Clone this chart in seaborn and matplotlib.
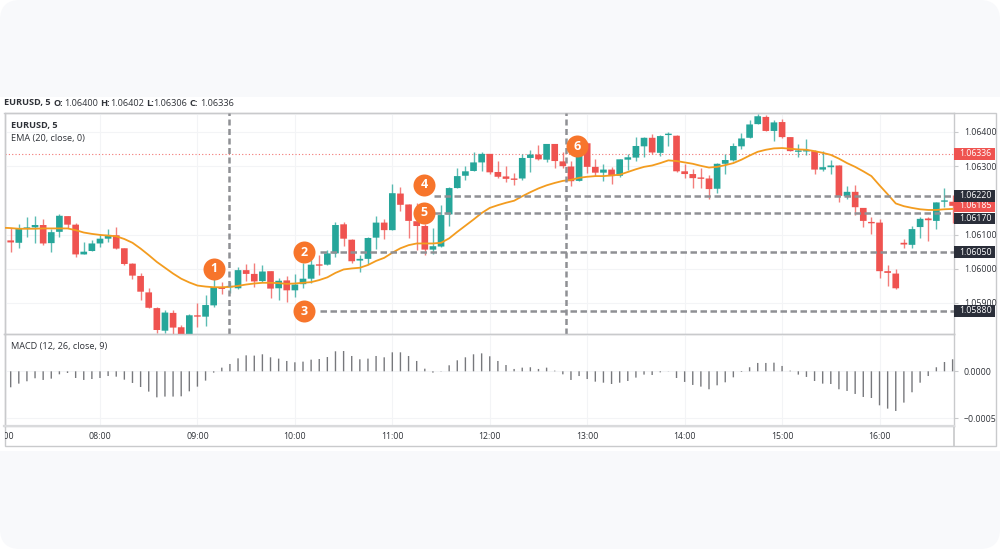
import matplotlib
matplotlib.use("Agg")
import matplotlib.pyplot as plt
from matplotlib.patches import FancyBboxPatch, Rectangle
import numpy as np
import pandas as pd
import seaborn as sns

# candle data (index 0 = 08:00, 5 minutes per candle)
opens = [1.06083, 1.06076, 1.06117, 1.06121, 1.06128, 1.06075, 1.06108, 1.06154, 1.06129, 1.06042, 1.06052,
         1.06074, 1.06088, 1.06098, 1.06060, 1.06015, 1.05979, 1.05931, 1.05885, 1.05819, 1.05871, 1.05829,
         1.05797, 1.05864, 1.05860, 1.05893, 1.05945, 1.05946, 1.05943, 1.05996, 1.05985, 1.05964, 1.05993,
         1.05943, 1.05966, 1.05937, 1.05955, 1.05971, 1.06012, 1.06012, 1.06045, 1.06130, 1.06085, 1.06024,
         1.06029, 1.06091, 1.06135, 1.06113, 1.06220, 1.06188, 1.06139, 1.06125, 1.06056, 1.06065, 1.06159,
         1.06236, 1.06272, 1.06286, 1.06311, 1.06336, 1.06283, 1.06270, 1.06264, 1.06264, 1.06324, 1.06334,
         1.06319, 1.06365, 1.06314, 1.06299, 1.06257, 1.06367, 1.06298, 1.06281, 1.06290, 1.06272, 1.06319,
         1.06325, 1.06358, 1.06383, 1.06339, 1.06391, 1.06389, 1.06285, 1.06277, 1.06266, 1.06264, 1.06234,
         1.06307, 1.06317, 1.06358, 1.06383, 1.06423, 1.06444, 1.06403, 1.06429, 1.06385, 1.06342, 1.06343,
         1.06344, 1.06290, 1.06297, 1.06302, 1.06212, 1.06225, 1.06178, 1.06137, 1.06135, 1.05993, 1.05986,
         1.06076, 1.06070, 1.06122, 1.06147, 1.06140, 1.06196, 1.06196]
highs = [1.06118, 1.06132, 1.06150, 1.06154, 1.06147, 1.06115, 1.06159, 1.06154, 1.06134, 1.06079, 1.06084,
         1.06103, 1.06115, 1.06123, 1.06062, 1.06018, 1.05989, 1.05943, 1.05887, 1.05879, 1.05879, 1.05836,
         1.05868, 1.05899, 1.05923, 1.05996, 1.05962, 1.05962, 1.06006, 1.06014, 1.06018, 1.06011, 1.05994,
         1.05972, 1.05979, 1.05984, 1.06016, 1.06025, 1.06040, 1.06054, 1.06137, 1.06137, 1.06087, 1.06040,
         1.06092, 1.06154, 1.06147, 1.06247, 1.06239, 1.06190, 1.06191, 1.06132, 1.06118, 1.06186, 1.06238,
         1.06296, 1.06300, 1.06342, 1.06340, 1.06337, 1.06315, 1.06300, 1.06280, 1.06337, 1.06346, 1.06361,
         1.06366, 1.06366, 1.06342, 1.06315, 1.06371, 1.06371, 1.06320, 1.06307, 1.06298, 1.06322, 1.06337,
         1.06385, 1.06385, 1.06395, 1.06390, 1.06399, 1.06390, 1.06307, 1.06292, 1.06295, 1.06273, 1.06308,
         1.06337, 1.06368, 1.06397, 1.06434, 1.06452, 1.06450, 1.06434, 1.06439, 1.06386, 1.06366, 1.06379,
         1.06346, 1.06344, 1.06317, 1.06303, 1.06241, 1.06244, 1.06179, 1.06150, 1.06145, 1.06011, 1.05998,
         1.06086, 1.06126, 1.06150, 1.06152, 1.06196, 1.06237, 1.06215]
lows = [1.06048, 1.06061, 1.06093, 1.06076, 1.06069, 1.06049, 1.06093, 1.06118, 1.06035, 1.06042, 1.06051,
        1.06064, 1.06078, 1.06058, 1.06012, 1.05971, 1.05909, 1.05884, 1.05811, 1.05811, 1.05806, 1.05782,
        1.05782, 1.05831, 1.05833, 1.05889, 1.05926, 1.05928, 1.05940, 1.05965, 1.05948, 1.05962, 1.05916,
        1.05910, 1.05902, 1.05918, 1.05945, 1.05957, 1.05983, 1.06011, 1.06035, 1.06068, 1.06016, 1.05991,
        1.06013, 1.06059, 1.06087, 1.06112, 1.06169, 1.06089, 1.06054, 1.06040, 1.06043, 1.06064, 1.06125,
        1.06235, 1.06261, 1.06285, 1.06285, 1.06278, 1.06266, 1.06254, 1.06245, 1.06259, 1.06283, 1.06317,
        1.06312, 1.06296, 1.06296, 1.06241, 1.06256, 1.06280, 1.06272, 1.06256, 1.06247, 1.06267, 1.06290,
        1.06315, 1.06327, 1.06335, 1.06330, 1.06360, 1.06284, 1.06266, 1.06237, 1.06237, 1.06205, 1.06222,
        1.06278, 1.06315, 1.06350, 1.06381, 1.06422, 1.06402, 1.06373, 1.06381, 1.06343, 1.06327, 1.06332,
        1.06276, 1.06286, 1.06278, 1.06196, 1.06205, 1.06157, 1.06123, 1.06101, 1.05972, 1.05950, 1.05941,
        1.06062, 1.06060, 1.06091, 1.06082, 1.06115, 1.06181, 1.06134]
closes = [1.06077, 1.06117, 1.06121, 1.06128, 1.06074, 1.06107, 1.06155, 1.06129, 1.06042, 1.06050, 1.06074,
          1.06088, 1.06099, 1.06059, 1.06014, 1.05980, 1.05933, 1.05886, 1.05821, 1.05872, 1.05828, 1.05792,
          1.05864, 1.05860, 1.05894, 1.05946, 1.05941, 1.05949, 1.05996, 1.05985, 1.05963, 1.05992, 1.05942,
          1.05965, 1.05937, 1.05954, 1.05971, 1.06012, 1.06009, 1.06045, 1.06128, 1.06088, 1.06022, 1.06029,
          1.06090, 1.06135, 1.06113, 1.06221, 1.06187, 1.06140, 1.06125, 1.06056, 1.06066, 1.06157, 1.06236,
          1.06271, 1.06285, 1.06311, 1.06336, 1.06282, 1.06269, 1.06263, 1.06260, 1.06324, 1.06334, 1.06320,
          1.06365, 1.06315, 1.06300, 1.06256, 1.06366, 1.06298, 1.06281, 1.06290, 1.06271, 1.06320, 1.06326,
          1.06359, 1.06383, 1.06340, 1.06388, 1.06393, 1.06285, 1.06277, 1.06265, 1.06263, 1.06233, 1.06307,
          1.06318, 1.06359, 1.06381, 1.06422, 1.06446, 1.06403, 1.06428, 1.06385, 1.06344, 1.06344, 1.06345,
          1.06290, 1.06297, 1.06302, 1.06213, 1.06225, 1.06180, 1.06140, 1.06133, 1.05993, 1.05988, 1.05943,
          1.06071, 1.06116, 1.06146, 1.06142, 1.06194, 1.06199, 1.06184]

# EMA starts one candle earlier than the first visible candle
ema = [1.06120, 1.06119, 1.06117, 1.06117, 1.06117, 1.06118, 1.06118, 1.06118, 1.06118, 1.06113, 1.06106, 1.06102,
       1.06099, 1.06097, 1.06095, 1.06087, 1.06076, 1.06059, 1.06040, 1.06020, 1.06003, 1.05986, 1.05971, 1.05960,
       1.05951, 1.05948, 1.05946, 1.05946, 1.05947, 1.05950, 1.05954, 1.05957, 1.05959, 1.05959, 1.05958, 1.05956,
       1.05957, 1.05959, 1.05961, 1.05967, 1.05975, 1.05988, 1.05998, 1.06001, 1.06003, 1.06011, 1.06023, 1.06032,
       1.06047, 1.06060, 1.06069, 1.06074, 1.06074, 1.06074, 1.06076, 1.06089, 1.06108, 1.06126, 1.06144, 1.06163,
       1.06178, 1.06186, 1.06193, 1.06199, 1.06212, 1.06224, 1.06235, 1.06244, 1.06251, 1.06257, 1.06260, 1.06266,
       1.06269, 1.06271, 1.06271, 1.06273, 1.06275, 1.06283, 1.06291, 1.06298, 1.06302, 1.06309, 1.06317, 1.06315,
       1.06311, 1.06307, 1.06301, 1.06296, 1.06298, 1.06303, 1.06309, 1.06319, 1.06331, 1.06342, 1.06348, 1.06352,
       1.06353, 1.06351, 1.06349, 1.06348, 1.06344, 1.06339, 1.06333, 1.06322, 1.06309, 1.06298, 1.06285, 1.06271,
       1.06244, 1.06218, 1.06191, 1.06183, 1.06178, 1.06174, 1.06172, 1.06172, 1.06174, 1.06175]

macd = [-170, -131, -106, -74, -92, -78, -32, -18, -71, -92, -82, -71, -50, -57, -89, -124, -167, -216, -277, -269,
        -269, -266, -213, -163, -99, -14, 39, 78, 138, 170, 167, 181, 149, 135, 110, 96, 103, 124, 131, 152, 213, 216,
        163, 128, 135, 163, 149, 202, 202, 163, 110, 28, -14, 3, 64, 117, 149, 181, 191, 160, 110, 67, 25, 39, 43, 25,
        39, 7, -32, -92, -50, -82, -110, -121, -135, -121, -103, -67, -35, -39, -11, -2, -71, -113, -145, -163, -191,
        -149, -117, -64, -7, 43, 89, 89, 92, 57, 7, -35, -60, -103, -131, -135, -191, -209, -241, -273, -284, -362,
        -397, -422, -333, -223, -121, -50, 43, 99, 128]

hour_labels = ["07:00", "08:00", "09:00", "10:00", "11:00", "12:00", "13:00", "14:00", "15:00", "16:00"]
price_ticks = [1.06400, 1.06300, 1.06100, 1.06000, 1.05900]
macd_ticks = [0.0, -0.0005]

last_price = 1.06336
levels = [1.06214, 1.06164, 1.06049, 1.05877]
level_starts = [41.1, 41.1, 27.1, 27.1]
vlines_at = [15.9, 57.4]

# the red 1.06185 tag comes before the dark tags that sit on top of it
tag_labels = ["1.06336", "1.06185", "1.06220", "1.06170", "1.06050", "1.05880"]
tag_prices = [1.06336, 1.06184, 1.06214, 1.06147, 1.06049, 1.05877]
tag_colors = ["#ef5350", "#ef5350", "#2a2e39", "#2a2e39", "#2a2e39", "#2a2e39"]

badge_labels = ["1", "2", "3", "4", "5", "6"]
badge_x = [14.0, 25.1, 25.1, 39.9, 39.9, 58.8]
badge_y = [1.06000, 1.06048, 1.05876, 1.06245, 1.06164, 1.06358]

GREEN = "#26a69a"
RED = "#ef5350"
ORANGE = "#f7752b"
GREY = "#8f9094"
EDGE = "#c9cacc"
TXT = "#2f3238"

sns.set_theme(style="white")
plt.rcParams["font.family"] = ["Open Sans", "DejaVu Sans"]

candles = pd.DataFrame({"open": opens, "high": highs, "low": lows, "close": closes})
candles["i"] = np.arange(-11, 106)
candles["up"] = candles["close"] >= candles["open"]
candles["color"] = np.where(candles["up"], GREEN, RED)
macd_df = pd.DataFrame({"i": np.arange(-11, 106), "macd": np.array(macd) * 1e-6})
ema_df = pd.DataFrame({"i": np.arange(-12, 106), "ema": ema})

W, H = 1000, 549


def pane(x0, y0, x1, y1):
    # pixel box -> axes
    return fig.add_axes([x0 / W, 1 - y1 / H, (x1 - x0) / W, (y1 - y0) / H])


fig = plt.figure(figsize=(10, 5.49), dpi=100, facecolor="white")

# page background behind the chart
bg = fig.add_axes([0, 0, 1, 1], zorder=-1)
bg.set_xlim(0, W)
bg.set_ylim(H, 0)
bg.axis("off")
bg.add_patch(FancyBboxPatch((0, 0), W, H, boxstyle="round,pad=0,rounding_size=20", fc="#f8f9fb", ec="none"))
bg.add_patch(Rectangle((0, 97), W, 354, fc="white", ec="none"))
bg.add_patch(Rectangle((4.5, 113), 991, 333, fc="white", ec=EDGE, lw=1))

xlim = ((4.5 - 100) / 8.12, (954 - 100) / 8.12)
hour_ticks = np.arange(-12, 97, 12)

ax = pane(4.5, 113.3, 954, 334)
ax2 = pane(4.5, 334, 954, 426)
ax3 = pane(4.5, 426, 954, 445.5)

for a in (ax, ax2):
    a.set_xlim(xlim)
    a.set_facecolor("none")
    a.set_xticks(hour_ticks[1:])
    a.tick_params(axis="x", length=0, labelbottom=False)
    a.grid(True, color="#f3f4f6", lw=0.8)
    a.set_axisbelow(True)
    a.yaxis.tick_right()
    a.tick_params(axis="y", length=3, width=0.8, color=EDGE, labelsize=6.3, labelcolor=TXT, pad=4)
    for s in a.spines.values():
        s.set_color(EDGE)
        s.set_linewidth(1)

# price pane
ax.set_ylim(1.058093, 1.064546)
ax.set_yticks(price_ticks)
ax.set_yticklabels([f"{t:.5f}" for t in price_ticks])
ax.axhline(last_price, color=RED, lw=0.8, ls=(0, (1, 2)), alpha=0.8)
ax.vlines(candles["i"], candles["low"], candles["high"], colors=candles["color"], lw=1, alpha=0.75, zorder=3)
bodies = ax.bar(candles["i"], (candles["close"] - candles["open"]).abs().clip(lower=0.00004),
                bottom=candles[["open", "close"]].min(axis=1), width=0.82, color=candles["color"], linewidth=0,
                edgecolor="none", zorder=3)
for b in bodies:
    b.set_snap(False)
sns.lineplot(data=ema_df, x="i", y="ema", ax=ax, color="#f39c1f", lw=1.3, zorder=4, legend=False)
ax.set_xlabel("")
ax.set_ylabel("")

for x in vlines_at:
    ax.axvline(x, color=GREY, lw=1.8, ls=(0, (2.4, 1.4)), zorder=5)
for lvl, start in zip(levels, level_starts):
    ax.hlines(lvl, start, xlim[1], color=GREY, lw=1.8, ls=(0, (2.6, 1.4)), zorder=5)

ax.scatter(badge_x, badge_y, s=251, color=ORANGE, linewidths=0, zorder=6)
for x, y, s in zip(badge_x, badge_y, badge_labels):
    ax.text(x, y, s, color="white", fontsize=9, fontweight="bold", ha="center", va="center", zorder=7)

# tags on the price scale, from the axis out to the chart border
tag_h = 12 / 34250
tag_w = 41 / 949.5
for n, (s, y, c) in enumerate(zip(tag_labels, tag_prices, tag_colors)):
    ax.add_patch(Rectangle((1.0, y - tag_h / 2), tag_w, tag_h, transform=ax.get_yaxis_transform(), fc=c, ec="none",
                           clip_on=False, zorder=8 + n))
    ax.text(1.0 + tag_w / 2 + 0.001, y, s, transform=ax.get_yaxis_transform(), ha="center", va="center", fontsize=6.3,
            color="white", zorder=8 + n, clip_on=False)

# macd pane
ax2.set_ylim(-0.000582, 0.000397)
ax2.set_yticks(macd_ticks)
ax2.set_yticklabels(["0.0000", "\u22120.0005"])
sns.barplot(data=macd_df, x="i", y="macd", ax=ax2, native_scale=True, color="#77787c", width=0.17,
            saturation=1, linewidth=0, edgecolor="none", zorder=3)
for b in ax2.patches:
    b.set_snap(False)
ax2.set_xlim(xlim)
ax2.set_xlabel("")
ax2.set_ylabel("")
ax2.set_xticks(hour_ticks[1:])

# time axis
ax3.set_xlim(xlim)
ax3.set_ylim(0, 1)
ax3.set_yticks([])
ax3.set_xticks([])
ax3.set_facecolor("none")
for s in ax3.spines.values():
    s.set_visible(False)
ax3.spines["top"].set_visible(True)
ax3.spines["top"].set_color("#d9dadc")
ax3.spines["top"].set_linewidth(1.6)
ax3.spines["right"].set_visible(True)
ax3.spines["right"].set_color(EDGE)
for t, s in zip(hour_ticks, hour_labels):
    ax3.text(t, 0.46, s, ha="center", va="center", fontsize=6.3, color=TXT, clip_on=True)

# header and legends
fig.text(4 / W, 1 - 103 / H, "EURUSD, 5", fontsize=6.6, fontweight="bold", color=TXT, va="center")
header = [(53, 64, "O:", "1.06400"), (100, 110, "H:", "1.06402"), (146, 153, "L:", "1.06306"),
          (190, 200, "C:", "1.06336")]
for px, vx, lab, val in header:
    fig.text(px / W, 1 - 103 / H, lab, fontsize=6.6, fontweight="bold", color=TXT, va="center")
    fig.text(vx / W, 1 - 103 / H, val, fontsize=6.6, color=TXT, va="center")
fig.text(11 / W, 1 - 125.5 / H, "EURUSD, 5", fontsize=6.6, fontweight="bold", color=TXT, va="center")
fig.text(11 / W, 1 - 138 / H, "EMA (20, close, 0)", fontsize=6.6, color=TXT, va="center")
fig.text(11 / W, 1 - 347 / H, "MACD (12, 26, close, 9)", fontsize=6.6, color=TXT, va="center")

fig.savefig("out.png", dpi=100)
